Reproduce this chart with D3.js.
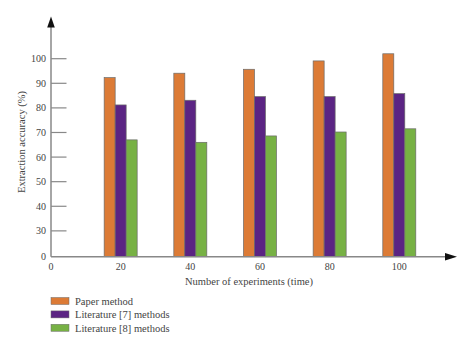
<!DOCTYPE html>
<html>
<head>
<meta charset="utf-8">
<script src="https://cdn.jsdelivr.net/npm/d3@7"></script>
<style>
  body { margin: 0; background: #fff; }
  svg text { font-family: "Liberation Serif", "DejaVu Serif", serif; fill: #444; }
</style>
</head>
<body>
<svg id="chart" width="474" height="349"></svg>
<script>
// chart data
const experiments = [20, 40, 60, 80, 100];
const seriesNames = ["Paper method", "Literature [7] methods", "Literature [8] methods"];
const paperMethod = [92.3, 94.1, 95.7, 99.1, 102.0];
const lit7Methods = [81.2, 83.1, 84.6, 84.6, 85.8];
const lit8Methods = [67.0, 66.0, 68.6, 70.2, 71.5];
const yTicks = [30, 40, 50, 60, 70, 80, 90, 100];
const xTicks = [0, 20, 40, 60, 80, 100];
const colors = ["#dc7b36", "#5b2483", "#77b144"];

const svg = d3.select("#chart");

// axis is broken below 30: the baseline carries the "0" label
const yBase = 19.5;
const y = d3.scaleLinear().domain([yBase, 100]).range([256.7, 58.7]);
const x = d3.scaleLinear().domain([0, 100]).range([51, 399.3]);
const barW = 11;

const series = [paperMethod, lit7Methods, lit8Methods];

// bars
series.forEach((vals, s) => {
  svg.append("g").selectAll("rect")
    .data(vals)
    .join("rect")
      .attr("x", (d, i) => x(experiments[i]) - 1.5 * barW + s * barW)
      .attr("y", d => y(d))
      .attr("width", barW)
      .attr("height", d => y(yBase) - y(d))
      .attr("fill", colors[s])
      .attr("stroke", "#6b6b6b")
      .attr("stroke-width", 0.7);
});

// y ticks
const yAxis = svg.append("g");
yAxis.selectAll("line")
  .data(yTicks)
  .join("line")
    .attr("x1", x(0)).attr("x2", x(0) + 15.5)
    .attr("y1", d => y(d)).attr("y2", d => y(d))
    .attr("stroke", "#888").attr("stroke-width", 1.2);
yAxis.selectAll("text")
  .data(yTicks)
  .join("text")
    .attr("x", x(0) - 5)
    .attr("y", d => y(d) + 3.5)
    .attr("text-anchor", "end")
    .attr("font-size", 10)
    .text(d => d);
yAxis.append("text")
  .attr("x", x(0) - 5).attr("y", y(yBase) + 3.5)
  .attr("text-anchor", "end").attr("font-size", 10).text("0");

// axis lines with arrows
svg.append("line")
  .attr("x1", x(0)).attr("x2", x(0))
  .attr("y1", y(yBase)).attr("y2", 26)
  .attr("stroke", "#888").attr("stroke-width", 1.5);
svg.append("path")
  .attr("d", `M${x(0)},16.5 L${x(0) - 3.8},27.5 L${x(0) + 3.8},27.5 Z`)
  .attr("fill", "#111");
svg.append("line")
  .attr("x1", x(0)).attr("x2", 447)
  .attr("y1", y(yBase)).attr("y2", y(yBase))
  .attr("stroke", "#888").attr("stroke-width", 1.5);
svg.append("path")
  .attr("d", `M457,${y(yBase)} L445,${y(yBase) - 3.8} L445,${y(yBase) + 3.8} Z`)
  .attr("fill", "#111");

// x tick labels
svg.append("g").selectAll("text")
  .data(xTicks)
  .join("text")
    .attr("x", d => x(d))
    .attr("y", 270)
    .attr("text-anchor", "middle")
    .attr("font-size", 10)
    .text(d => d);

// axis titles
svg.append("text")
  .attr("x", 249).attr("y", 285)
  .attr("text-anchor", "middle").attr("font-size", 10.5)
  .text("Number of experiments (time)");
svg.append("text")
  .attr("transform", "translate(25,142) rotate(-90)")
  .attr("text-anchor", "middle").attr("font-size", 10.5)
  .text("Extraction accuracy (%)");

// legend
const legend = svg.append("g").selectAll("g")
  .data(seriesNames)
  .join("g")
    .attr("transform", (d, i) => `translate(51,${301 + i * 13.4})`);
legend.append("rect")
  .attr("x", 0).attr("y", -3.5)
  .attr("width", 18).attr("height", 7)
  .attr("fill", (d, i) => colors[i])
  .attr("stroke", "#6b6b6b").attr("stroke-width", 0.5);
legend.append("text")
  .attr("x", 24).attr("y", 3.8)
  .attr("font-size", 10.5)
  .text(d => d);
</script>
</body>
</html>
